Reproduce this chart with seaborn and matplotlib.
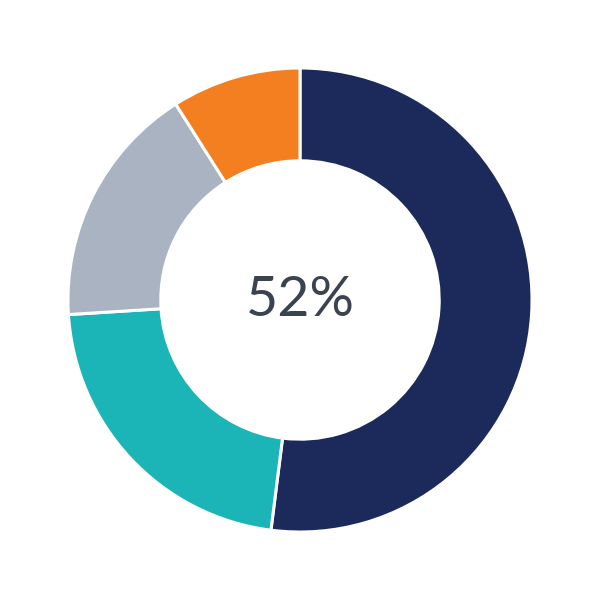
import matplotlib
matplotlib.use("Agg")
import matplotlib.pyplot as plt
import seaborn as sns

sns.set_theme(style="white")
plt.rcParams['font.family'] = ['Lato', 'DejaVu Sans']

# segment shares, clockwise from 12 o'clock
segments = ['Navy', 'Teal', 'Gray', 'Orange']
values = [52, 22, 17, 9]
colors = ['#1b2a5b', '#1bb5b8', '#a9b3c1', '#f47f20']
center_label = '52%'

fig = plt.figure(figsize=(6, 6), dpi=100)
ax = fig.add_axes([0, 0, 1, 1])
ax.pie(values, colors=colors, startangle=90, counterclock=False,
       radius=1.0,
       wedgeprops=dict(width=0.4, edgecolor='white', linewidth=2.2))
ax.text(0, 0, center_label, ha='center', va='center', fontsize=40,
        color='#3b4350')
ax.set_xlim(-1.293, 1.293)
ax.set_ylim(-1.293, 1.293)
ax.set_aspect('equal')
ax.axis('off')

plt.savefig('out.png', dpi=100, facecolor='white')
